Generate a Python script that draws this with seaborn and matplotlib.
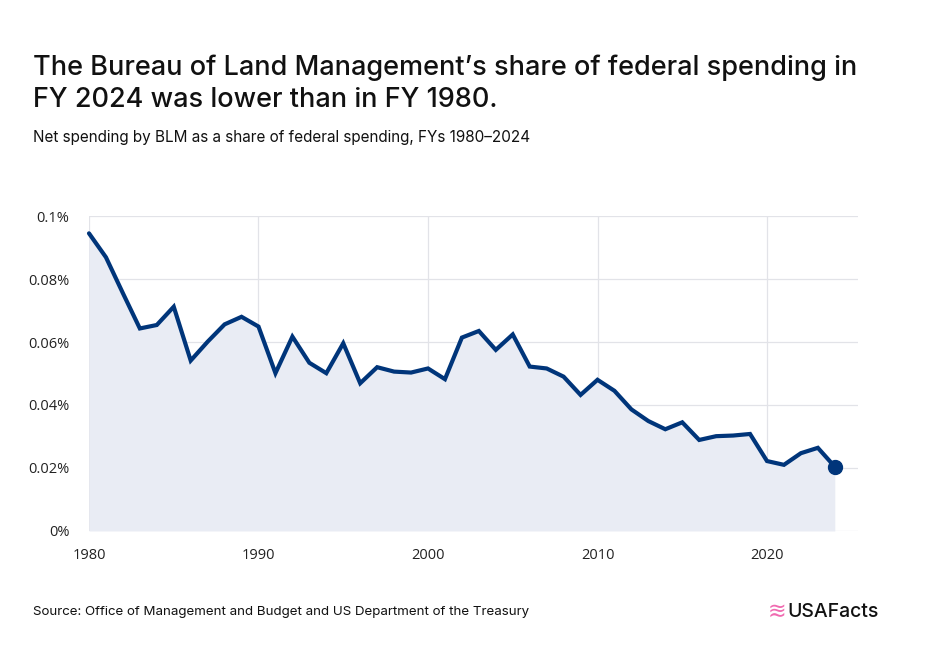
import numpy as np
import pandas as pd
import matplotlib
matplotlib.use('Agg')
import matplotlib.pyplot as plt
import seaborn as sns

# BLM net spending as share of federal spending (%)
years = list(range(1980, 2025))
share = [0.0945, 0.0869, 0.0755, 0.0643, 0.0654, 0.0712, 0.0541, 0.0601, 0.0656, 0.0680,
         0.0649, 0.0501, 0.0617, 0.0534, 0.0501, 0.0596, 0.0469, 0.0520, 0.0506, 0.0503,
         0.0516, 0.0482, 0.0614, 0.0635, 0.0575, 0.0624, 0.0522, 0.0516, 0.0490, 0.0432,
         0.0480, 0.0445, 0.0386, 0.0349, 0.0323, 0.0345, 0.0289, 0.0301, 0.0303, 0.0308,
         0.0222, 0.0210, 0.0247, 0.0264, 0.0204]
y_ticks = [0, 0.02, 0.04, 0.06, 0.08, 0.1]
y_labels = ['0%', '0.02%', '0.04%', '0.06%', '0.08%', '0.1%']
x_ticks = [1980, 1990, 2000, 2010, 2020]

df = pd.DataFrame({'year': years, 'share': share})

sns.set_style('white')
plt.rcParams['font.family'] = ['Inter', 'DejaVu Sans']

navy = '#00357A'
fig = plt.figure(figsize=(9.29, 6.61), dpi=100)
ax = fig.add_axes([0.0958, 0.1967, 0.8278, 0.4765])

ax.fill_between(df['year'], df['share'], 0, color='#E9ECF4', zorder=1, linewidth=0)
sns.lineplot(data=df, x='year', y='share', ax=ax, color=navy, linewidth=3.0, zorder=3)
for ln in ax.lines:
    ln.set_clip_on(False)
    ln.set_solid_joinstyle('miter')
ax.scatter([years[-1]], [share[-1]], s=100, color=navy, zorder=4, clip_on=False)

ax.set_xlim(1980, 2025.37)
ax.set_ylim(0, 0.1)
ax.set_xticks(x_ticks)
ax.set_yticks(y_ticks)
ax.set_yticklabels(y_labels)
ax.grid(True, color='#E2E3E8', linewidth=0.9, zorder=0)
ax.set_axisbelow(True)
for s in ax.spines.values():
    s.set_visible(False)
ax.set_xlabel('')
ax.set_ylabel('')
ax.tick_params(axis='both', length=0, labelsize=10.5, labelcolor='#222222')
ax.tick_params(axis='x', pad=12)
ax.tick_params(axis='y', pad=14)
for lab in ax.get_xticklabels() + ax.get_yticklabels():
    lab.set_family(['Open Sans', 'DejaVu Sans'])

fig.text(0.035, 0.917, 'The Bureau of Land Management\u2019s share of federal spending in\nFY 2024 was lower than in FY 1980.',
         fontsize=19.5, fontweight='medium', color='#111111', va='top', ha='left', linespacing=1.3)
fig.text(0.035, 0.803, 'Net spending by BLM as a share of federal spending, FYs 1980\u20132024',
         fontsize=11, color='#111111', va='top', ha='left')
fig.text(0.035, 0.074, 'Source: Office of Management and Budget and US Department of the Treasury',
         fontsize=9.6, color='#111111', va='center', ha='left')
fig.text(0.826, 0.074, '\u224b', fontsize=16, color='#F06AB0', va='center', ha='left',
         family=['DejaVu Sans'])
fig.text(0.946, 0.074, 'USAFacts', fontsize=14, fontweight='medium', color='#111111',
         va='center', ha='right')

fig.savefig('out.png', dpi=100)
